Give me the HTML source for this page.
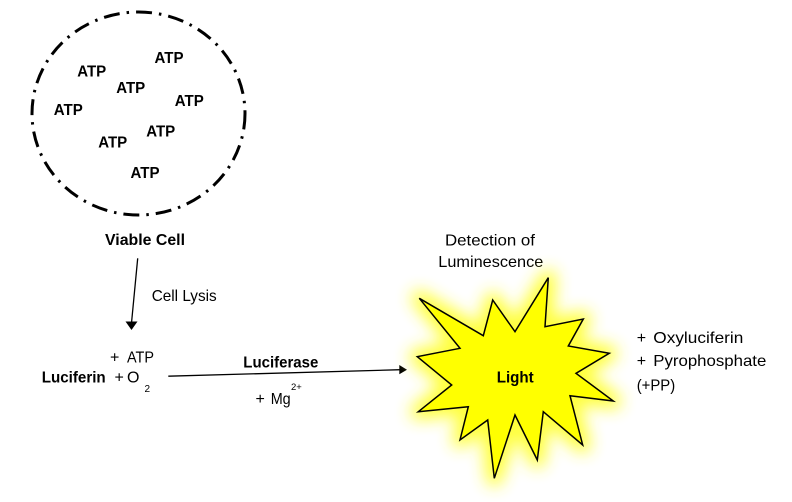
<!DOCTYPE html>
<html><head><meta charset="utf-8"><style>
html,body{margin:0;padding:0;background:#fff;}
svg{display:block;}
text{font-family:"Liberation Sans",Arial,sans-serif;fill:#000;}
.b{font-weight:bold;}
</style></head><body>
<svg width="792" height="502" viewBox="0 0 792 502" xmlns="http://www.w3.org/2000/svg">
<defs>
<filter id="glow" x="-40%" y="-40%" width="180%" height="180%">
<feGaussianBlur stdDeviation="8"/>
</filter>
</defs>
<ellipse cx="138.5" cy="113.5" rx="106.5" ry="101.5" fill="none" stroke="#000" stroke-width="3" stroke-dasharray="16 7 2.5 7" stroke-linecap="butt"/>
<g font-size="15.5" text-anchor="middle">
<text x="169" y="63" class="b" textLength="29" lengthAdjust="spacingAndGlyphs">ATP</text>
<text x="91.7" y="76.5" class="b" textLength="29" lengthAdjust="spacingAndGlyphs">ATP</text>
<text x="130.7" y="93" class="b" textLength="29" lengthAdjust="spacingAndGlyphs">ATP</text>
<text x="189.3" y="105.8" class="b" textLength="29" lengthAdjust="spacingAndGlyphs">ATP</text>
<text x="68.3" y="115" class="b" textLength="29" lengthAdjust="spacingAndGlyphs">ATP</text>
<text x="160.7" y="136.5" class="b" textLength="29" lengthAdjust="spacingAndGlyphs">ATP</text>
<text x="112.7" y="147.5" class="b" textLength="29" lengthAdjust="spacingAndGlyphs">ATP</text>
<text x="145" y="178" class="b" textLength="29" lengthAdjust="spacingAndGlyphs">ATP</text>
</g>
<text x="105" y="245" font-size="16" class="b" textLength="80" lengthAdjust="spacingAndGlyphs">Viable Cell</text>
<line x1="137.7" y1="258.3" x2="131.5" y2="323" stroke="#000" stroke-width="1.3"/>
<polygon points="125.5,321.5 137.5,321.5 131.5,330" fill="#000"/>
<text x="151.7" y="300.8" font-size="16" textLength="65" lengthAdjust="spacingAndGlyphs">Cell Lysis</text>
<text x="110" y="362.5" font-size="16">+</text>
<text x="127" y="362.5" font-size="16" textLength="27" lengthAdjust="spacingAndGlyphs">ATP</text>
<text x="41.7" y="382.5" font-size="16" class="b" textLength="64" lengthAdjust="spacingAndGlyphs">Luciferin</text>
<text x="114.5" y="382.5" font-size="16">+</text>
<text x="127" y="382.5" font-size="16">O</text>
<text x="144.5" y="392" font-size="10">2</text>
<line x1="168.3" y1="376.2" x2="401" y2="369.7" stroke="#000" stroke-width="1.3"/>
<polygon points="399.3,365 399.3,374.3 407,369.7" fill="#000"/>
<text x="243.3" y="367.5" font-size="16" class="b" textLength="75" lengthAdjust="spacingAndGlyphs">Luciferase</text>
<text x="255.5" y="404" font-size="16">+</text>
<text x="270.7" y="404" font-size="16" textLength="20" lengthAdjust="spacingAndGlyphs">Mg</text>
<text x="291" y="390" font-size="9.5">2+</text>
<text x="445" y="245.5" font-size="16" textLength="90" lengthAdjust="spacingAndGlyphs">Detection of</text>
<text x="438.3" y="267" font-size="16" textLength="105" lengthAdjust="spacingAndGlyphs">Luminescence</text>
<g>
<polygon filter="url(#glow)" fill="#ffff30" stroke="#ffff30" stroke-width="16" stroke-linejoin="round" opacity="0.95"
points="419.3,298.3 483.3,335.7 492.7,300 515,331.7 548.3,277.7 545,326.7 583.3,319 568.3,346 609.3,353.3 576,373.3 613.3,401 570,395.7 582.7,445 543.3,411.7 537.3,460 515,415 494.3,478.3 487.7,420 460,440 468.3,406.7 418.3,411.7 451.7,385 417.3,356.7 460,348.3"/>
<polygon fill="#ffff00" stroke="#000" stroke-width="1.5" stroke-linejoin="miter"
points="419.3,298.3 483.3,335.7 492.7,300 515,331.7 548.3,277.7 545,326.7 583.3,319 568.3,346 609.3,353.3 576,373.3 613.3,401 570,395.7 582.7,445 543.3,411.7 537.3,460 515,415 494.3,478.3 487.7,420 460,440 468.3,406.7 418.3,411.7 451.7,385 417.3,356.7 460,348.3"/>
</g>
<text x="496.7" y="382.5" font-size="16" class="b" textLength="37" lengthAdjust="spacingAndGlyphs">Light</text>
<text x="636.7" y="343" font-size="16">+</text>
<text x="653.3" y="343" font-size="16" textLength="90" lengthAdjust="spacingAndGlyphs">Oxyluciferin</text>
<text x="636.7" y="366" font-size="16">+</text>
<text x="653.3" y="366" font-size="16" textLength="113" lengthAdjust="spacingAndGlyphs">Pyrophosphate</text>
<text x="636.7" y="390.5" font-size="16" textLength="38.5" lengthAdjust="spacingAndGlyphs">(+PP)</text>
</svg>
</body></html>
